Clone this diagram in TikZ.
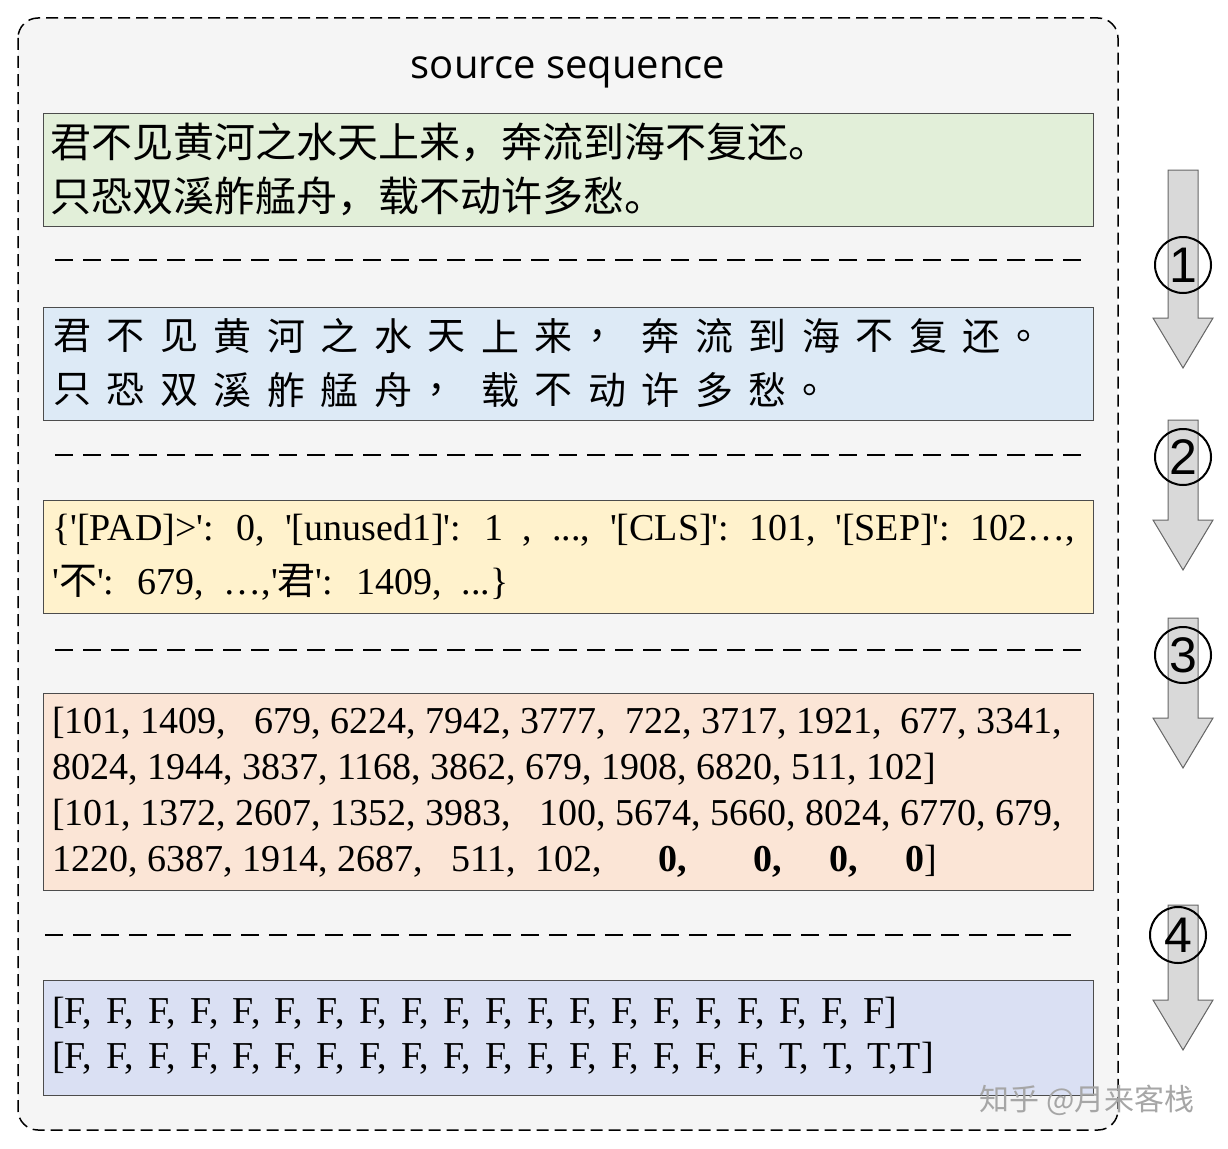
\documentclass[tikz,border=0pt]{standalone}
\usepackage{fontspec}
\newfontfamily\cjk{Noto Sans CJK SC}
\newfontfamily\tms{Liberation Serif}
\newfontfamily\sns{Liberation Sans}
\newfontfamily\osn{Open Sans}
\begin{document}
\begin{tikzpicture}[x=1pt,y=-1pt,
  tbox/.style={draw=black!70,line width=1pt},
  sep/.style={dashed,dash pattern=on 18pt off 10pt,line width=1.3pt},
  tl/.style={anchor=west,inner sep=0pt,font=\tms\fontsize{38}{38}\selectfont},
  cl/.style={anchor=west,inner sep=0pt,font=\cjk\fontsize{41}{41}\selectfont},
  sc/.style={inner sep=0pt,font=\cjk\fontsize{38}{38}\selectfont},
  barrow/.style={fill=black!15,draw=black!60,line width=1pt},
  num/.style={circle,draw,line width=2pt,minimum size=56pt,inner sep=0pt,font=\sns\fontsize{50}{50}\selectfont}]
\useasboundingbox (0,0) rectangle (1228,1148);
\draw[dashed,dash pattern=on 12pt off 6pt,line width=1.5pt,rounded corners=20pt,fill=black!4] (18,18) rectangle (1118,1130);
\node[font=\osn\fontsize{40}{40}\selectfont] (title) at (568,72) {source sequence};
% box 1
\draw[tbox,fill={rgb,255:red,226;green,239;blue,217}] (43,113) rectangle (1093,226);
\node[cl] (s1) at (50,142) {君不见黄河之水天上来，奔流到海不复还。};
\node[cl] (s2) at (50,196) {只恐双溪舴艋舟，载不动许多愁。};
\draw[sep] (55,260) -- (1085,260);
% box 2
\draw[tbox,fill={rgb,255:red,221;green,234;blue,246}] (43,307) rectangle (1093,420);
\foreach \c [count=\i] in {君,不,见,黄,河,之,水,天,上,来,，,奔,流,到,海,不,复,还,。}
  \node[sc] at (72+53.5*\i-53.5,336) {\c};
\foreach \c [count=\i] in {只,恐,双,溪,舴,艋,舟,，,载,不,动,许,多,愁,。}
  \node[sc] at (72+53.5*\i-53.5,390) {\c};
\draw[sep] (55,455) -- (1085,455);
% box 3
\draw[tbox,fill={rgb,255:red,255;green,242;blue,204}] (43,500) rectangle (1093,613);
\node[tl] (v1) at (52,530) {\spaceskip=0.52em \{'[PAD]>': 0, '[unused1]': 1 , ..., '[CLS]': 101, '[SEP]': 102…,};
\node[tl] (v2) at (52,582) {\spaceskip=0.52em '{\cjk 不}': 679, …,'{\cjk 君}': 1409, ...\}};
\draw[sep] (55,650) -- (1085,650);
% box 4
\draw[tbox,fill={rgb,255:red,251;green,229;blue,214}] (43,693) rectangle (1093,890);
\node[tl] at (52,723) {[101, 1409,\ \ \ 679, 6224, 7942, 3777,\ \ 722, 3717, 1921,\ \ 677, 3341,};
\node[tl] at (52,769) {8024, 1944, 3837, 1168, 3862, 679, 1908, 6820, 511, 102]};
\node[tl] at (52,815) {[101, 1372, 2607, 1352, 3983,\ \ \ 100, 5674, 5660, 8024, 6770, 679,};
\node[tl] at (52,861) {1220, 6387, 1914, 2687,\ \ \ 511,\ \ 102,\ \ \ \ \ \ \textbf{0,}\ \ \ \ \ \ \ \textbf{0,}\ \ \ \ \ \textbf{0,}\ \ \ \ \ \textbf{0}]};
\draw[sep] (45,935) -- (1075,935);
% box 5
\draw[tbox,fill={rgb,255:red,218;green,224;blue,243}] (43,980) rectangle (1093,1095);
\node[tl] at (52,1013) {\spaceskip=0.38em [F, F, F, F, F, F, F, F, F, F, F, F, F, F, F, F, F, F, F, F]};
\node[tl] at (52,1058) {\spaceskip=0.38em [F, F, F, F, F, F, F, F, F, F, F, F, F, F, F, F, F, T, T, T,T]};
% arrows
\foreach \ya/\yb/\yc in {170/318/368, 420/520/570, 618/718/768, 905/1000/1050}
  \draw[barrow] (1168,\ya) -- (1198,\ya) -- (1198,\yb) -- (1213,\yb) -- (1183,\yc) -- (1153,\yb) -- (1168,\yb) -- cycle;
\node[num] (n1) at (1183,265) {1};
\node[num] (n2) at (1183,457) {2};
\node[num] (n3) at (1183,655) {3};
\node[num] (n4) at (1178,935) {4};
\node[anchor=east,text=black!35,font=\cjk\fontsize{30}{30}\selectfont] (wm) at (1198,1100) {知乎 @月来客栈};
\end{tikzpicture}
\end{document}
